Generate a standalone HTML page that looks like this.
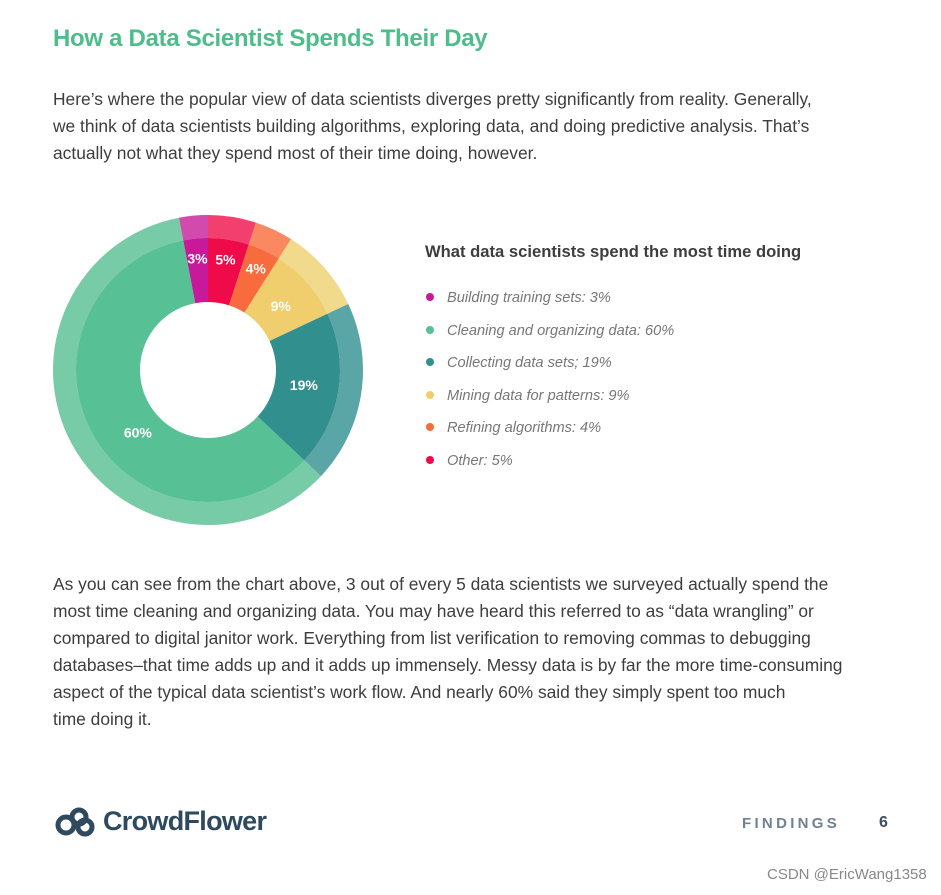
<!DOCTYPE html>
<html><head><meta charset="utf-8">
<style>
body{margin:0;width:941px;height:895px;background:#fff;font-family:"Liberation Sans",sans-serif;position:relative;overflow:hidden}
.t{position:absolute;white-space:nowrap}
#title{left:53px;top:25px;font-size:24px;font-weight:bold;color:#4dbd8a;letter-spacing:-0.3px}
.p{position:absolute;left:53px;font-size:17.4px;color:#3d3d3d;line-height:27px;width:860px;white-space:nowrap}
#legend-title{left:425px;top:242px;font-size:16.6px;font-weight:bold;color:#3d3d3d}
.li{position:absolute;left:426px;font-size:14.6px;font-style:italic;color:#777;white-space:nowrap}
.li span{display:inline-block;width:8px;height:8px;border-radius:50%;margin-right:13px;vertical-align:1px}
</style></head><body>
<div class="t" id="title">How a Data Scientist Spends Their Day</div>
<div class="p" style="top:86px">Here’s where the popular view of data scientists diverges pretty significantly from reality. Generally,<br>we think of data scientists building algorithms, exploring data, and doing predictive analysis. That’s<br>actually not what they spend most of their time doing, however.</div>

<svg id="chart" width="941" height="895" style="position:absolute;left:0;top:0"></svg>

<div class="t" id="legend-title">What data scientists spend the most time doing</div>
<div id="legend"></div>

<div class="p" style="top:571px">As you can see from the chart above, 3 out of every 5 data scientists we surveyed actually spend the<br>most time cleaning and organizing data. You may have heard this referred to as “data wrangling” or<br>compared to digital janitor work. Everything from list verification to removing commas to debugging<br>databases–that time adds up and it adds up immensely. Messy data is by far the more time-consuming<br>aspect of the typical data scientist’s work flow. And nearly 60% said they simply spent too much<br>time doing it.</div>

<div style="position:absolute;left:55px;top:806px">
<svg width="46" height="34" style="position:absolute;left:0;top:0"><g fill="none" stroke="#2f4a5f" stroke-width="5"><circle cx="11" cy="19" r="8"/><circle cx="24" cy="11" r="7"/><circle cx="30" cy="21" r="7"/></g></svg>
<div class="t" style="left:48px;top:0;font-size:27px;font-weight:bold;color:#2f4a5f;letter-spacing:-0.7px">CrowdFlower</div></div>
<div class="t" style="left:742px;top:815px;font-size:15px;font-weight:bold;color:#6e8294;letter-spacing:3.3px">FINDINGS</div>
<div class="t" style="left:879px;top:814px;font-size:16px;font-weight:bold;color:#3d4f5e">6</div>
<div class="t" style="left:767px;top:866px;font-size:15px;color:#888">CSDN @EricWang1358</div>

<script>
const categories = ["Other","Refining algorithms","Mining data for patterns","Collecting data sets","Cleaning and organizing data","Building training sets"];
const values = [5,4,9,19,60,3];
const innerColors = ["#ef0b4a","#f76b3c","#f0ce6e","#318f8e","#57c094","#c8199a"];
const outerColors = ["#f23f6e","#fa8860","#f2da8c","#5aa5a6","#77cca7","#d24aad"];
const legendOrder = ["Building training sets","Cleaning and organizing data","Collecting data sets","Mining data for patterns","Refining algorithms","Other"];
const legendText = ["Building training sets: 3%","Cleaning and organizing data: 60%","Collecting data sets; 19%","Mining data for patterns: 9%","Refining algorithms: 4%","Other: 5%"];

const NS="http://www.w3.org/2000/svg";
const svg=document.getElementById('chart');
const cx=208,cy=370,R0=155,R1=132,R2=68;
const total=values.reduce((a,b)=>a+b,0);
function ang(v){return v/total*2*Math.PI;}
function pt(r,a){return [cx+r*Math.sin(a),cy-r*Math.cos(a)];}
function arc(r1,r2,a0,a1){
  const l=(a1-a0)>Math.PI?1:0;
  const p1=pt(r1,a0),p2=pt(r1,a1),p3=pt(r2,a1),p4=pt(r2,a0);
  return `M${p1}A${r1},${r1} 0 ${l} 1 ${p2}L${p3}A${r2},${r2} 0 ${l} 0 ${p4}Z`;
}
let acc=0;
values.forEach((v,i)=>{
  const a0=ang(acc),a1=ang(acc+v);acc+=v;
  const o=document.createElementNS(NS,'path');
  o.setAttribute('d',arc(R0,R1,a0,a1));o.setAttribute('fill',outerColors[i]);
  
  
  svg.appendChild(o);
  const p=document.createElementNS(NS,'path');
  p.setAttribute('d',arc(R1,R2,a0,a1));p.setAttribute('fill',innerColors[i]);
  
  
  svg.appendChild(p);
  const frac=v>30?0.44:0.5;
  const m=a0+(a1-a0)*frac;const lr=v<6?112:(v>30?94:97);const q=pt(lr,m);
  const t=document.createElementNS(NS,'text');
  t.setAttribute('x',q[0]);t.setAttribute('y',q[1]+5);t.setAttribute('text-anchor','middle');
  t.setAttribute('fill','#fff');t.setAttribute('font-size','14');t.setAttribute('font-weight','bold');
  t.setAttribute('font-family','Liberation Sans, sans-serif');
  t.textContent=v+'%';
  
  
  svg.appendChild(t);
});
const lg=document.getElementById('legend');
legendOrder.forEach((c,j)=>{
  const i=categories.indexOf(c);
  const d=document.createElement('div');d.className='li';d.style.top=(290+j*32.6)+'px';
  d.innerHTML=`<span style="background:${innerColors[i]}"></span>${legendText[j]}`;
  
  
  lg.appendChild(d);
});
</script>
</body></html>
